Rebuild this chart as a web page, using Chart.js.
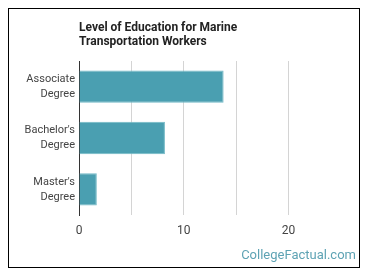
<!DOCTYPE html>
<html lang="en">
<head>
  <meta charset="UTF-8">
  <title>Level of Education for Marine Transportation Workers</title>
  <script src="https://cdn.jsdelivr.net/npm/chart.js"></script>
  <style>
    body { margin: 0; width: 370px; height: 278px; background: #fff; font-family: Roboto, Arial, sans-serif; overflow: hidden; }
    #frame { position: absolute; left: 8px; top: 8px; width: 350px; height: 258px; border: 1.5px solid #000; }
    #chartContainer { position: absolute; left: 0; top: 0; width: 370px; height: 278px; }
    #title { position: absolute; left: 79px; top: 20px; font-size: 12px; font-weight: bold; line-height: 14px; color: #222; }
    #brand { position: absolute; right: 14px; top: 247px; font-size: 13px; color: #5ea3b4; }
  </style>
</head>
<body>
  <div id="frame"></div>
  <div id="chartContainer"><canvas id="eduChart"></canvas></div>
  <div id="title">Level of Education for Marine<br>Transportation Workers</div>
  <div id="brand">CollegeFactual.com</div>

  <script>
    // données
    const categories = [["Associate", "Degree"], ["Bachelor's", "Degree"], ["Master's", "Degree"]];
    const workers = [13.8, 8.2, 1.7];
    const tickLabels = [0, 10, 20];

    const ctx = document.getElementById('eduChart').getContext('2d');
    new Chart(ctx, {
      type: 'bar',
      data: {
        labels: categories,
        datasets: [{
          data: workers,
          backgroundColor: '#4a9fb1',
          borderColor: '#72b9c6',
          borderWidth: 1,
          borderSkipped: 'left',
          categoryPercentage: 1,
          barPercentage: 0.63
        }]
      },
      options: {
        indexAxis: 'y',
        responsive: true,
        maintainAspectRatio: false,
        animation: false,
        layout: { padding: { top: 61, right: 29, bottom: 33, left: 0 } },
        plugins: { legend: { display: false }, tooltip: { enabled: false } },
        scales: {
          x: {
            min: 0,
            max: 25,
            afterFit: s => { s.height = 30; },
            ticks: {
              stepSize: 5,
              padding: 9,
              color: '#444',
              font: { family: 'Roboto', size: 12 },
              callback: v => tickLabels.includes(v) ? String(v) : ''
            },
            grid: {
              drawTicks: false,
              color: c => c.tick.value === 0 ? '#333' : (c.tick.value === 25 ? 'rgba(0,0,0,0)' : '#d4d4d4')
            },
            border: { display: false }
          },
          y: {
            afterFit: s => { s.width = 79; },
            ticks: {
              padding: 4,
              color: '#444',
              font: { family: 'Roboto', size: 11, lineHeight: 1.35 }
            },
            grid: { display: false, drawTicks: false },
            border: { display: true, color: '#333', width: 1 }
          }
        }
      }
    });
  </script>
</body>
</html>
